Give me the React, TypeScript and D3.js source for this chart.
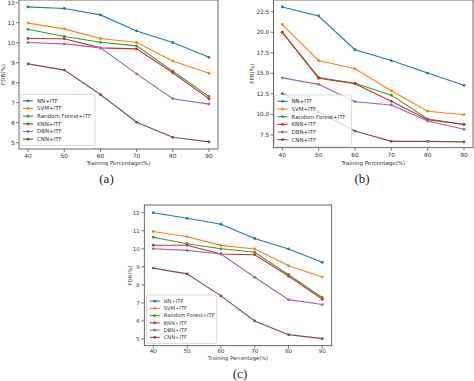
import React from "react";
import * as d3 from "d3";

const xValues = [40, 50, 60, 70, 80, 90];
const seriesNames = ["NN+ITF", "SVM+ITF", "Random Forest+ITF", "KNN+ITF", "DBN+ITF", "CNN+ITF"];
const colors = ["#1f77b4", "#ff7f0e", "#2ca02c", "#d62728", "#9467bd", "#7a4e45"];

const fdrA = [
  [11.79, 11.71, 11.39, 10.59, 10.01, 9.27],
  [10.98, 10.69, 10.21, 10.01, 9.08, 8.47],
  [10.67, 10.31, 10.02, 9.84, 8.58, 7.31],
  [10.21, 10.2, 9.74, 9.69, 8.5, 7.19],
  [10.01, 9.94, 9.74, 8.44, 7.2, 6.93],
  [8.94, 8.63, 7.41, 6.02, 5.27, 5.04],
];
const fprB = [
  [23.07, 21.98, 17.87, 16.56, 15.03, 13.54],
  [20.94, 16.57, 15.55, 12.88, 10.39, 9.97],
  [20.0, 14.5, 13.8, 12.35, 9.45, 8.8],
  [19.98, 14.4, 13.74, 11.6, 9.35, 8.78],
  [14.45, 13.66, 11.55, 11.15, 9.2, 8.2],
  [12.54, 10.3, 7.98, 6.73, 6.73, 6.66],
];
const fdrC = [
  [12.0, 11.69, 11.36, 10.57, 9.99, 9.25],
  [10.96, 10.67, 10.19, 9.99, 9.06, 8.44],
  [10.64, 10.28, 10.0, 9.81, 8.57, 7.3],
  [10.2, 10.2, 9.71, 9.67, 8.49, 7.2],
  [10.0, 9.91, 9.71, 8.42, 7.18, 6.91],
  [8.93, 8.61, 7.39, 6.0, 5.24, 5.02],
];
const fdrTicks = [5, 6, 7, 8, 9, 10, 11, 12];
const fprTicks = [7.5, 10.0, 12.5, 15.0, 17.5, 20.0, 22.5];

type PanelProps = {
  data: number[][];
  yTicks: number[];
  yFmt: (v: number) => string;
  yLabel: string;
  caption: string;
  frame: { l: number; r: number; t: number; b: number };
  xMap: [number, number];
  yMap: [number, number, number, number];
  yTickRight: number;
  yLabelX: number;
  xTickY: number;
  xTitleY: number;
  captionY: number;
  captionX: number;
  legend: { x: number; y: number; w: number; h: number };
  fs: number;
  lfs: number;
};

const Panel = (p: PanelProps) => {
  const x = d3.scaleLinear().domain([40, 90]).range(p.xMap);
  const y = d3.scaleLinear().domain([p.yMap[0], p.yMap[2]]).range([p.yMap[1], p.yMap[3]]);
  const line = d3
    .line<number>()
    .x((_, i) => x(xValues[i]))
    .y((d) => y(d));
  const f = p.frame;
  const midY = (f.t + f.b) / 2;
  const lg = p.legend;
  const step = (lg.h - 5) / 6;
  return (
    <g fontFamily="DejaVu Sans, sans-serif" fill="#333">
      <rect x={f.l} y={f.t} width={f.r - f.l} height={f.b - f.t} fill="white" stroke="#444" strokeWidth={0.8} />
      {p.data.map((s, si) => (
        <g key={si}>
          <path d={line(s) || ""} fill="none" stroke={colors[si]} strokeWidth={1.1} />
          {s.map((v, i) => (
            <circle key={i} cx={x(xValues[i])} cy={y(v)} r={1.4} fill={colors[si]} />
          ))}
        </g>
      ))}
      {p.yTicks.map((t) => (
        <g key={t}>
          <line x1={f.l - 3} x2={f.l} y1={y(t)} y2={y(t)} stroke="#444" strokeWidth={0.7} />
          <text x={p.yTickRight} y={y(t)} dy="0.35em" textAnchor="end" fontSize={p.fs}>
            {p.yFmt(t)}
          </text>
        </g>
      ))}
      {xValues.map((t) => (
        <g key={t}>
          <line x1={x(t)} x2={x(t)} y1={f.b} y2={f.b + 3} stroke="#444" strokeWidth={0.7} />
          <text x={x(t)} y={p.xTickY} dy="0.35em" textAnchor="middle" fontSize={p.fs}>
            {t}
          </text>
        </g>
      ))}
      <text x={(f.l + f.r) / 2} y={p.xTitleY} dy="0.35em" textAnchor="middle" fontSize={p.lfs}>
        Training Percentage(%)
      </text>
      <text
        transform={`translate(${p.yLabelX},${midY}) rotate(-90)`}
        textAnchor="middle"
        dy="0.35em"
        fontSize={p.lfs}
      >
        {p.yLabel}
      </text>
      <text x={p.captionX} y={p.captionY} dy="0.35em" textAnchor="middle" fontSize={13} fontFamily="Liberation Serif, serif" fill="#222">
        {p.caption}
      </text>
      <rect x={lg.x} y={lg.y} width={lg.w} height={lg.h} rx={2} fill="white" fillOpacity={0.8} stroke="#ccc" strokeWidth={0.7} />
      {seriesNames.map((n, i) => {
        const yy = lg.y + 2.5 + step * (i + 0.5);
        return (
          <g key={n}>
            <line x1={lg.x + 3} x2={lg.x + 13} y1={yy} y2={yy} stroke={colors[i]} strokeWidth={1.1} />
            <circle cx={lg.x + 8} cy={yy} r={1.4} fill={colors[i]} />
            <text x={lg.x + 17} y={yy} dy="0.35em" fontSize={p.lfs}>
              {n}
            </text>
          </g>
        );
      })}
    </g>
  );
};

export default function App() {
  return (
    <svg width={474} height={381} style={{ position: "absolute", left: 0, top: 0 }}>
      <rect width={474} height={381} fill="white" />
      <Panel
        data={fdrA}
        yTicks={fdrTicks}
        yFmt={(v) => String(v)}
        yLabel="FDR(%)"
        caption="(a)"
        frame={{ l: 19, r: 218, t: 0, b: 149 }}
        xMap={[28.05, 209]}
        yMap={[5, 142.7, 12, 2.7]}
        yTickRight={15}
        yLabelX={3.5}
        xTickY={155.5}
        xTitleY={163}
        captionY={178.5}
        captionX={106.5}
        legend={{ x: 20, y: 94.5, w: 75, h: 51 }}
        fs={5.8}
        lfs={5.5}
      />
      <Panel
        data={fprB}
        yTicks={fprTicks}
        yFmt={(v) => v.toFixed(1)}
        yLabel="FPR(%)"
        caption="(b)"
        frame={{ l: 273.5, r: 473, t: 0, b: 147.7 }}
        xMap={[282.3, 464]}
        yMap={[7.5, 135, 22.5, 11.7]}
        yTickRight={269.3}
        yLabelX={252}
        xTickY={155}
        xTitleY={163.3}
        captionY={178.5}
        captionX={362}
        legend={{ x: 274.5, y: 95, w: 77, h: 51 }}
        fs={5.8}
        lfs={5.5}
      />
      <Panel
        data={fdrC}
        yTicks={fdrTicks}
        yFmt={(v) => String(v)}
        yLabel="FDR(%)"
        caption="(c)"
        frame={{ l: 144.3, r: 331.7, t: 205, b: 345.7 }}
        xMap={[153.3, 322.3]}
        yMap={[5, 339, 12, 212.7]}
        yTickRight={139.8}
        yLabelX={130}
        xTickY={351}
        xTitleY={358}
        captionY={373}
        captionX={240}
        legend={{ x: 146.7, y: 295, w: 70, h: 48.5 }}
        fs={5.5}
        lfs={5.2}
      />
    </svg>
  );
}
